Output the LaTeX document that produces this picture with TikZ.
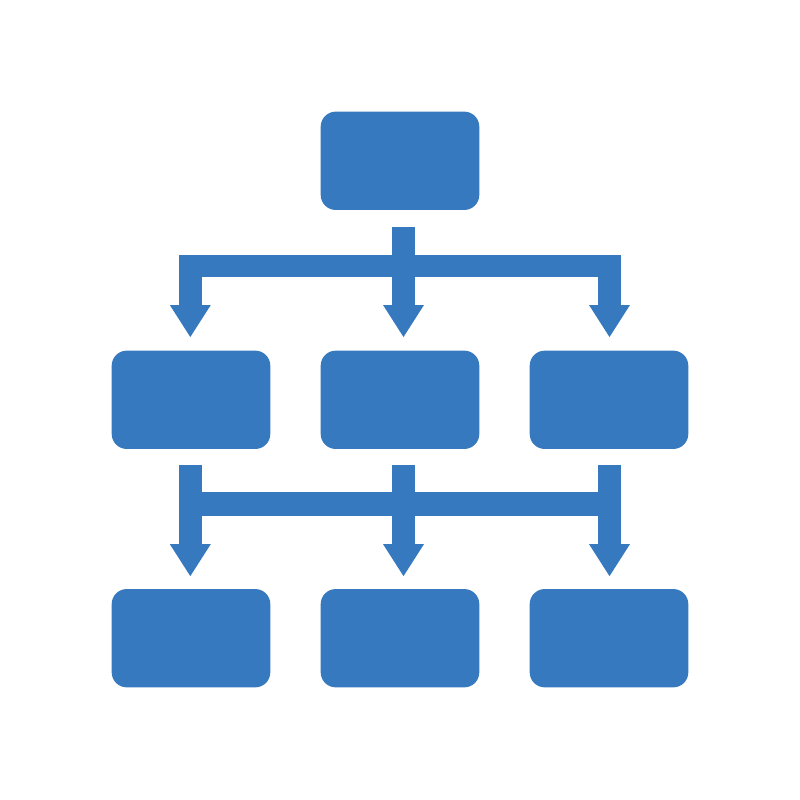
\documentclass[tikz,border=0pt]{standalone}
\usetikzlibrary{arrows.meta,calc}
\definecolor{boxblue}{RGB}{54,121,190}
\begin{document}
\begin{tikzpicture}[x=1pt,y=-1pt,
  box/.style={fill=boxblue,rounded corners=15pt,minimum width=158.6pt,minimum height=98.3pt,inner sep=0pt},
  conn/.style={draw=boxblue,line width=22.5pt,line join=miter,-{Triangle[width=38.5pt,length=32.4pt]}},
  bar/.style={draw=boxblue,line width=23.4pt}]
\useasboundingbox (0,0) rectangle (800,800);
% boxes
\node[box] (top) at (400,160.8) {};
\node[box] (m1) at (191,399.8) {};
\node[box] (m2) at (400,399.8) {};
\node[box] (m3) at (609,399.8) {};
\node[box] (b1) at (191,638.2) {};
\node[box] (b2) at (400,638.2) {};
\node[box] (b3) at (609,638.2) {};
% upper connectors
\coordinate (ts) at ([xshift=3.5pt,yshift=-16.7pt]top.south);
\coordinate (tj) at ([xshift=3.5pt,yshift=-55.8pt]top.south);
\draw[conn] (ts) -- ([xshift=3.5pt,yshift=13pt]m2.north);
\draw[conn] (tj) -| ([xshift=-0.7pt,yshift=13pt]m1.north);
\draw[conn] (tj) -| ([xshift=0.5pt,yshift=13pt]m3.north);
% lower connectors
\draw[bar] ([xshift=-0.7pt,yshift=-55pt]m1.south) -- ([xshift=0.5pt,yshift=-55pt]m3.south);
\draw[conn] ([xshift=-0.7pt,yshift=-15.4pt]m1.south) -- ([xshift=-0.7pt,yshift=12.3pt]b1.north);
\draw[conn] ([xshift=3.5pt,yshift=-15.4pt]m2.south) -- ([xshift=3.5pt,yshift=12.3pt]b2.north);
\draw[conn] ([xshift=0.5pt,yshift=-15.4pt]m3.south) -- ([xshift=0.5pt,yshift=12.3pt]b3.north);
\end{tikzpicture}
\end{document}
